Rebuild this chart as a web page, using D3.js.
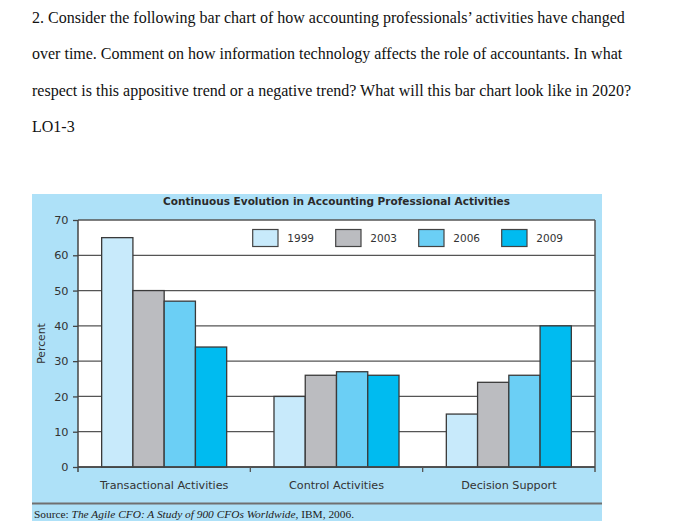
<!DOCTYPE html>
<html>
<head>
<meta charset="utf-8">
<script src="https://cdn.jsdelivr.net/npm/d3@7"></script>
<style>
  html, body { margin: 0; padding: 0; background: #fff; }
  svg { display: block; }
</style>
</head>
<body>
<svg id="chart" width="694" height="530"></svg>
<script>
// ---- data ----
const headerLines = [
  "2. Consider the following bar chart of how accounting professionals\u2019 activities have changed",
  "over time. Comment on how information technology affects the role of accountants. In what",
  "respect is this appositive trend or a negative trend? What will this bar chart look like in 2020?",
  "LO1-3"
];
const chartTitle = "Continuous Evolution in Accounting Professional Activities";
const categories = ["Transactional Activities", "Control Activities", "Decision Support"];
const years = ["1999", "2003", "2006", "2009"];
const values1999 = [65, 20, 15];
const values2003 = [50, 26, 24];
const values2006 = [47, 27, 26];
const values2009 = [34, 26, 40];
const yTicks = [0, 10, 20, 30, 40, 50, 60, 70];
const yLabel = "Percent";
const sourceParts = [
  { text: "Source: ", italic: false },
  { text: "The Agile CFO: A Study of 900 CFOs Worldwide,", italic: true },
  { text: " IBM, 2006.", italic: false }
];
const colors = ["#c8eafb", "#bbbcc0", "#6bcff5", "#00bbf0"];

const seriesValues = [values1999, values2003, values2006, values2009];
const table = categories.map((c, i) => ({
  category: c,
  values: years.map((y, j) => ({ year: y, value: seriesValues[j][i], color: colors[j] }))
}));

// ---- layout ----
const svg = d3.select("#chart");
const panel = { x: 32, y: 194, w: 570, h: 327 };
const plot = { left: 78, right: 595, top: 220, bottom: 467 };

const sansFont = "'DejaVu Sans', Verdana, sans-serif";
const serifFont = "'Liberation Serif', 'Times New Roman', serif";
const textColor = "#333";

// header text
svg.append("g").selectAll("text")
  .data(headerLines)
  .join("text")
  .attr("x", 32)
  .attr("y", (d, i) => 22.8 + i * 36.4)
  .attr("font-family", serifFont)
  .attr("font-size", 16)
  .attr("fill", "#111")
  .text(d => d);

// panel
svg.append("rect")
  .attr("x", panel.x).attr("y", panel.y)
  .attr("width", panel.w).attr("height", panel.h)
  .attr("fill", "#aee1f8");

// scales
const x = d3.scaleBand().domain(categories).range([plot.left, plot.right]).padding(0);
const xs = d3.scaleBand().domain(years).range([0, x.bandwidth()]).paddingInner(0).paddingOuter(0.757);
const y = d3.scaleLinear().domain([0, 70]).range([plot.bottom, plot.top]);

// plot background
svg.append("rect")
  .attr("x", plot.left).attr("y", y(70))
  .attr("width", plot.right - plot.left).attr("height", y(0) - y(70))
  .attr("fill", "#fff");

// gridlines
svg.append("g").selectAll("line")
  .data(yTicks)
  .join("line")
  .attr("x1", plot.left).attr("x2", plot.right)
  .attr("y1", d => y(d)).attr("y2", d => y(d))
  .attr("stroke", "#555").attr("stroke-width", 1.3);

// bars
const groups = svg.append("g").selectAll("g")
  .data(table)
  .join("g")
  .attr("transform", d => `translate(${x(d.category)},0)`);
groups.selectAll("rect")
  .data(d => d.values)
  .join("rect")
  .attr("x", d => xs(d.year))
  .attr("y", d => y(d.value))
  .attr("width", xs.bandwidth())
  .attr("height", d => y(0) - y(d.value))
  .attr("fill", d => d.color)
  .attr("stroke", "#3a3a3a")
  .attr("stroke-width", 1.3);

// y axis
const yAxis = svg.append("g")
  .attr("transform", `translate(${plot.left},0)`)
  .call(d3.axisLeft(y).tickValues(yTicks).tickSize(5).tickSizeOuter(0).tickPadding(4.5));
yAxis.select(".domain").remove();
yAxis.selectAll(".tick line").attr("stroke", "#444").attr("stroke-width", 1.3);
yAxis.selectAll(".tick text")
  .attr("font-family", sansFont).attr("font-size", 11.3).attr("fill", textColor);

// axis frame lines (left axis, right border, bottom axis)
const tickLen = 5;
svg.append("line")
  .attr("x1", plot.left).attr("x2", plot.left)
  .attr("y1", y(70)).attr("y2", y(0) + tickLen)
  .attr("stroke", "#444").attr("stroke-width", 1.5);
svg.append("line")
  .attr("x1", plot.right).attr("x2", plot.right)
  .attr("y1", y(70)).attr("y2", y(0) + tickLen)
  .attr("stroke", "#555").attr("stroke-width", 1.5);
svg.append("line")
  .attr("x1", plot.left).attr("x2", plot.right)
  .attr("y1", y(0)).attr("y2", y(0))
  .attr("stroke", "#444").attr("stroke-width", 1.5);

// category boundary ticks
const boundaries = categories.slice(1).map(c => x(c));
svg.append("g").selectAll("line")
  .data(boundaries)
  .join("line")
  .attr("x1", d => d).attr("x2", d => d)
  .attr("y1", y(0)).attr("y2", y(0) + tickLen)
  .attr("stroke", "#555").attr("stroke-width", 1.3);

// x labels
const xAxis = svg.append("g")
  .attr("transform", `translate(0,${y(0)})`)
  .call(d3.axisBottom(x).tickSize(0).tickPadding(14.5));
xAxis.select(".domain").remove();
xAxis.selectAll(".tick text")
  .attr("font-family", sansFont).attr("font-size", 11.2).attr("fill", textColor);

// y label
svg.append("text")
  .attr("transform", `translate(44.5,${(y(0) + y(70)) / 2}) rotate(-90)`)
  .attr("text-anchor", "middle")
  .attr("font-family", sansFont).attr("font-size", 10.8).attr("fill", textColor)
  .text(yLabel);

// title
svg.append("text")
  .attr("x", 336.5).attr("y", 205)
  .attr("text-anchor", "middle")
  .attr("font-family", sansFont).attr("font-size", 10.5).attr("font-weight", "bold")
  .attr("fill", "#2a2a2a")
  .text(chartTitle);

// legend
const legendX = d3.scaleBand().domain(years).range([252.7, 252.7 + 83 * years.length]);
const legend = svg.append("g").selectAll("g")
  .data(years)
  .join("g")
  .attr("transform", d => `translate(${legendX(d)},229.5)`);
legend.append("rect")
  .attr("width", 25.3).attr("height", 17)
  .attr("fill", (d, i) => colors[i])
  .attr("stroke", "#444").attr("stroke-width", 1.2);
legend.append("text")
  .attr("x", 34.6).attr("y", 12.6)
  .attr("font-family", sansFont).attr("font-size", 10.5).attr("fill", textColor)
  .text(d => d);

// separator line
svg.append("line")
  .attr("x1", panel.x).attr("x2", panel.x + panel.w)
  .attr("y1", 503.5).attr("y2", 503.5)
  .attr("stroke", "#707070").attr("stroke-width", 2);

// source
const src = svg.append("text")
  .attr("x", 34).attr("y", 518)
  .attr("font-family", serifFont).attr("font-size", 11)
  .attr("textLength", 320).attr("lengthAdjust", "spacingAndGlyphs")
  .attr("fill", "#222");
src.selectAll("tspan")
  .data(sourceParts)
  .join("tspan")
  .attr("font-style", d => d.italic ? "italic" : "normal")
  .text(d => d.text);
</script>
</body>
</html>
